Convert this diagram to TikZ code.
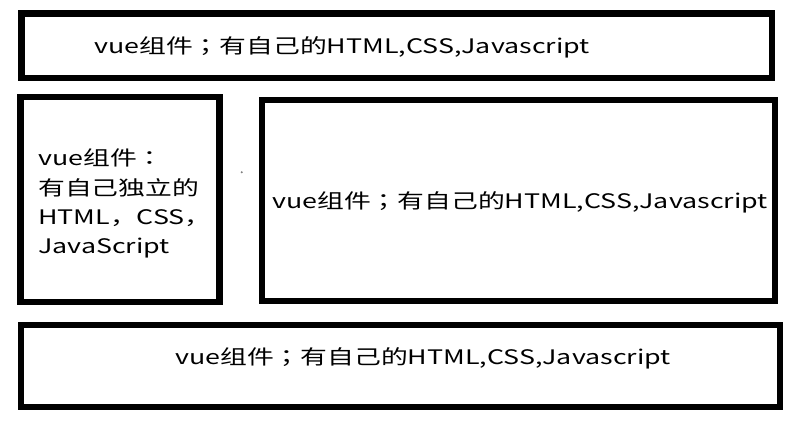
\documentclass[tikz,border=0pt]{standalone}
\usepackage{fontspec}
\setmainfont{Noto Sans CJK SC}[FakeStretch=1.34]
\newfontfamily\tcpunct{Noto Sans CJK TC}[FakeStretch=1.34]
\newcommand{\fsemi}{{\tcpunct ；}}
\newcommand{\fcolon}{{\tcpunct ：}}
\begin{document}
\begin{tikzpicture}[x=1pt,y=-1pt,
  frame/.style={draw=black,line width=6.5pt},
  label/.style={inner sep=0pt,anchor=west,font=\fontsize{20}{30}\selectfont,text=black}]
\useasboundingbox[fill=white] (0,0) rectangle (791,420);
\draw[frame] (21.5,13.5) rectangle (772,78);
\draw[frame] (20.5,97) rectangle (219.5,302);
\draw[frame] (262,100) rectangle (775,301);
\draw[frame] (21,325) rectangle (780,407);
\node[label] (t1) at (94,47.5) {vue组件\fsemi 有自己的HTML,CSS,Javascript};
\node[label] (t2) at (272,202.5) {vue组件\fsemi 有自己的HTML,CSS,Javascript};
\node[label] (t3) at (175,358.5) {vue组件\fsemi 有自己的HTML,CSS,Javascript};
\node[label] (l1) at (38,158) {vue组件\fcolon};
\node[label] (l2) at (38,188) {有自己独立的};
\node[label] (l3) at (38,218) {HTML，CSS，};
\node[label] (l4) at (38,248) {JavaScript};
\fill[gray] (241.7,172.3) circle (1.1);
\end{tikzpicture}
\end{document}
